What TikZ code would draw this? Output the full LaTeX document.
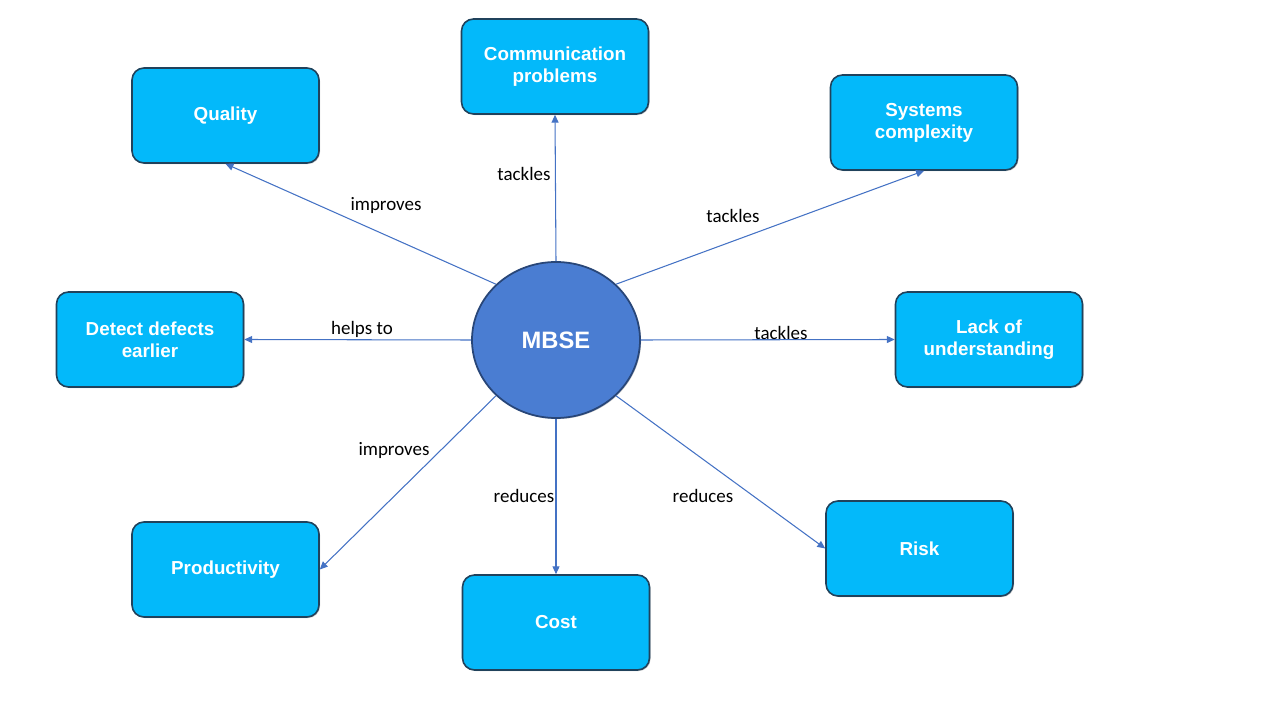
\documentclass[tikz,border=0pt]{standalone}
\usepackage{fontspec}
\setmainfont{Carlito}
\newfontfamily\boxfont{Liberation Sans}
\usetikzlibrary{shapes.geometric,arrows.meta,shadows}
\definecolor{boxblue}{RGB}{3,185,250}
\definecolor{boxedge}{RGB}{32,66,92}
\definecolor{hubblue}{RGB}{74,125,210}
\definecolor{hubedge}{RGB}{40,70,120}
\definecolor{linkblue}{RGB}{68,114,196}

\begin{document}
\begin{tikzpicture}[
    topic/.style={draw=boxedge,line width=0.9pt,fill=boxblue,rounded corners=0.24cm,
      minimum width=3.74cm,minimum height=1.9cm,align=center,text=white,
      drop shadow={shadow xshift=0.6pt,shadow yshift=-0.6pt,opacity=0.45},
      font=\boxfont\bfseries\fontsize{10.7}{12.5}\selectfont},
    hub/.style={ellipse,draw=hubedge,line width=1pt,fill=hubblue,inner sep=0pt,
      minimum width=3.36cm,minimum height=3.12cm,text=white,
      drop shadow={shadow xshift=0.6pt,shadow yshift=-0.6pt,opacity=0.45},
      font=\boxfont\bfseries\fontsize{13.5}{16}\selectfont},
    link/.style={draw=linkblue,line width=0.6pt,-{Triangle[length=4.5pt,width=4pt]}},
    verb/.style={font=\fontsize{10.8}{13}\selectfont,text=black}]
  \useasboundingbox (0,0) rectangle (25.6,14.4);
  \node[hub] (mbse) at (11.12,7.60) {MBSE};
  \node[topic] (quality) at (4.51,12.09) {Quality};
  \node[topic] (comm) at (11.10,13.07) {Communication\\problems};
  \node[topic] (systems) at (18.48,11.95) {Systems\\complexity};
  \node[topic] (detect) at (3.00,7.61) {Detect defects\\earlier};
  \node[topic] (lack) at (19.78,7.61) {Lack of\\understanding};
  \node[topic] (productivity) at (4.51,3.01) {Productivity};
  \node[topic] (cost) at (11.12,1.95) {Cost};
  \node[topic] (risk) at (18.39,3.43) {Risk};
  % connectors out of the hub
  \foreach \a/\b in {north west/quality.south, north/comm.south,
      north east/systems.south, west/detect.east, east/lack.west,
      south west/productivity.east, south/cost.north, south east/risk.west}
    \draw[link] (mbse.\a) -- (\b);
  % verbs
  \node[verb] (v1) at (7.72,10.28) {improves};
  \node[verb] (v2) at (10.48,10.92) {tackles};
  \node[verb] (v3) at (14.66,10.08) {tackles};
  \node[verb] (v4) at (7.24,7.82) {helps to};
  \node[verb] (v5) at (15.62,7.74) {tackles};
  \node[verb] (v6) at (7.88,5.38) {improves};
  \node[verb] (v7) at (10.48,4.48) {reduces};
  \node[verb] (v8) at (14.06,4.48) {reduces};
\end{tikzpicture}
\end{document}
